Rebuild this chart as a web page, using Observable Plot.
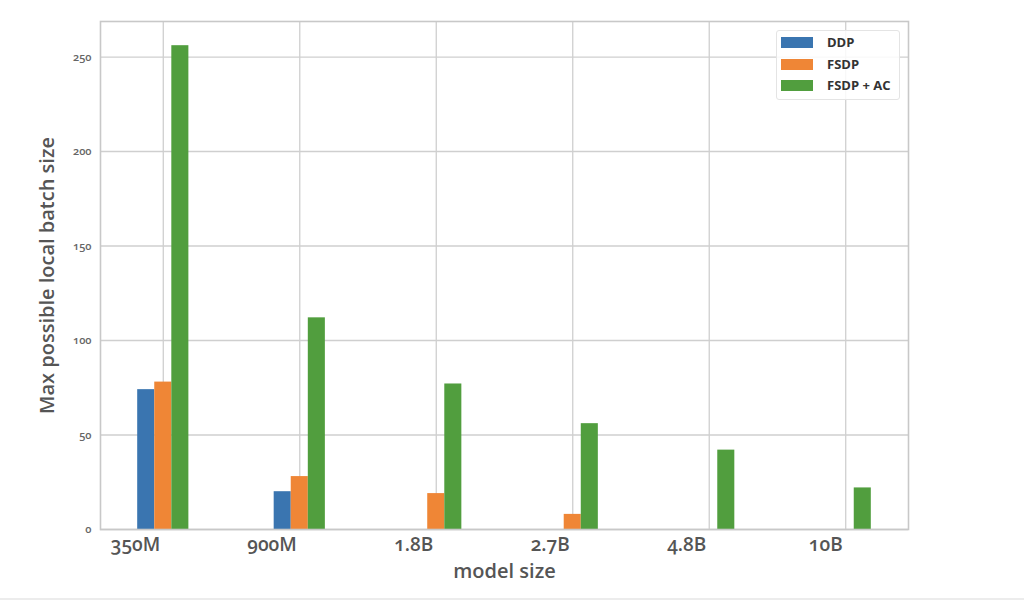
<!DOCTYPE html>
<html>
<head>
<meta charset="utf-8">
<script src="https://cdn.jsdelivr.net/npm/d3@7"></script>
<script src="https://cdn.jsdelivr.net/npm/@observablehq/plot@0.6"></script>
<style>
  body { margin: 0; background: #fff; font-family: "Open Sans", sans-serif; }
  #wrap { position: relative; width: 1024px; height: 600px; overflow: hidden; border-bottom: 2px solid #ececec; box-sizing: border-box; }
  #legend { position: absolute; left: 776px; top: 30px; width: 124px; height: 70px; border: 1px solid #e4e4e4; border-radius: 3px; background: rgba(255,255,255,0.85); box-sizing: border-box; }
  .item { position: absolute; left: 4px; height: 11px; width: 118px; }
  .sw { position: absolute; left: 0; top: 0; width: 32px; height: 11px; }
  .lab { position: absolute; left: 46px; top: -4px; font-size: 13px; font-weight: 700; color: #333; white-space: nowrap; line-height: 18px; }
</style>
</head>
<body>
<div id="wrap"><div id="legend"></div></div>
<script>
const categories = ["350M", "900M", "1.8B", "2.7B", "4.8B", "10B"];
const seriesNames = ["DDP", "FSDP", "FSDP + AC"];
const ddp    = [74, 20, null, null, null, null];
const fsdp   = [78, 28, 19, 8, null, null];
const fsdpAc = [256, 112, 77, 56, 42, 22];
const colors = ["#3a75b0", "#ef8636", "#519e3e"];
const yTicks = [0, 50, 100, 150, 200, 250];
const xLabel = "model size";
const yLabel = "Max possible local batch size";

const seriesValues = [ddp, fsdp, fsdpAc];
const barWidth = 0.125;
const rows = [];
seriesValues.forEach((vals, s) => vals.forEach((v, i) => {
  if (v != null) rows.push({series: seriesNames[s], s, i, value: v});
}));

const plot = Plot.plot({
  width: 1024,
  height: 598,
  marginLeft: 100,
  marginRight: 116,
  marginTop: 21,
  marginBottom: 69,
  style: {fontFamily: "'Open Sans', sans-serif", fontVariantNumeric: "oldstyle-nums", background: "#fff"},
  x: {domain: [-0.46, categories.length - 0.54], axis: null},
  y: {domain: [0, 268.8], axis: null},
  color: {domain: seriesNames, range: colors},
  marks: [
    Plot.ruleY(yTicks, {stroke: "#cfcfcf", strokeWidth: 1.3}),
    Plot.ruleX(d3.range(categories.length), {stroke: "#cfcfcf", strokeWidth: 1.3}),
    Plot.rectY(rows, {
      x1: d => d.i + (d.s - 1) * barWidth - barWidth / 2,
      x2: d => d.i + (d.s - 1) * barWidth + barWidth / 2,
      y1: 0,
      y2: "value",
      fill: "series"
    }),
    Plot.frame({stroke: "#c8c8c8", strokeWidth: 1.6}),
    Plot.text(yTicks, {y: d => d, text: d => String(d), frameAnchor: "left", dx: -9, textAnchor: "end",
      fontSize: 11, fontWeight: 600, fill: "#666"}),
    Plot.text(categories, {x: (d, i) => i, text: d => d, frameAnchor: "bottom", dy: 21, dx: -3, textAnchor: "end",
      fontSize: 19, fontWeight: 600, fill: "#555"}),
    Plot.text([xLabel], {text: d => d, frameAnchor: "bottom", dy: 48, fontSize: 20, fontWeight: 600, fill: "#555"}),
    Plot.text([yLabel], {text: d => d, frameAnchor: "left", rotate: -90, dx: -53, textAnchor: "middle",
      fontSize: 20, fontWeight: 600, fill: "#555"})
  ]
});
const wrap = document.getElementById("wrap");
wrap.insertBefore(plot, wrap.firstChild);

const legend = document.getElementById("legend");
seriesNames.forEach((name, k) => {
  const item = document.createElement("div");
  item.className = "item";
  item.style.top = (6 + k * 21.6) + "px";
  const sw = document.createElement("div");
  sw.className = "sw";
  sw.style.background = colors[k];
  const lab = document.createElement("div");
  lab.className = "lab";
  lab.textContent = name;
  item.appendChild(sw);
  item.appendChild(lab);
  legend.appendChild(item);
});
</script>
</body>
</html>
